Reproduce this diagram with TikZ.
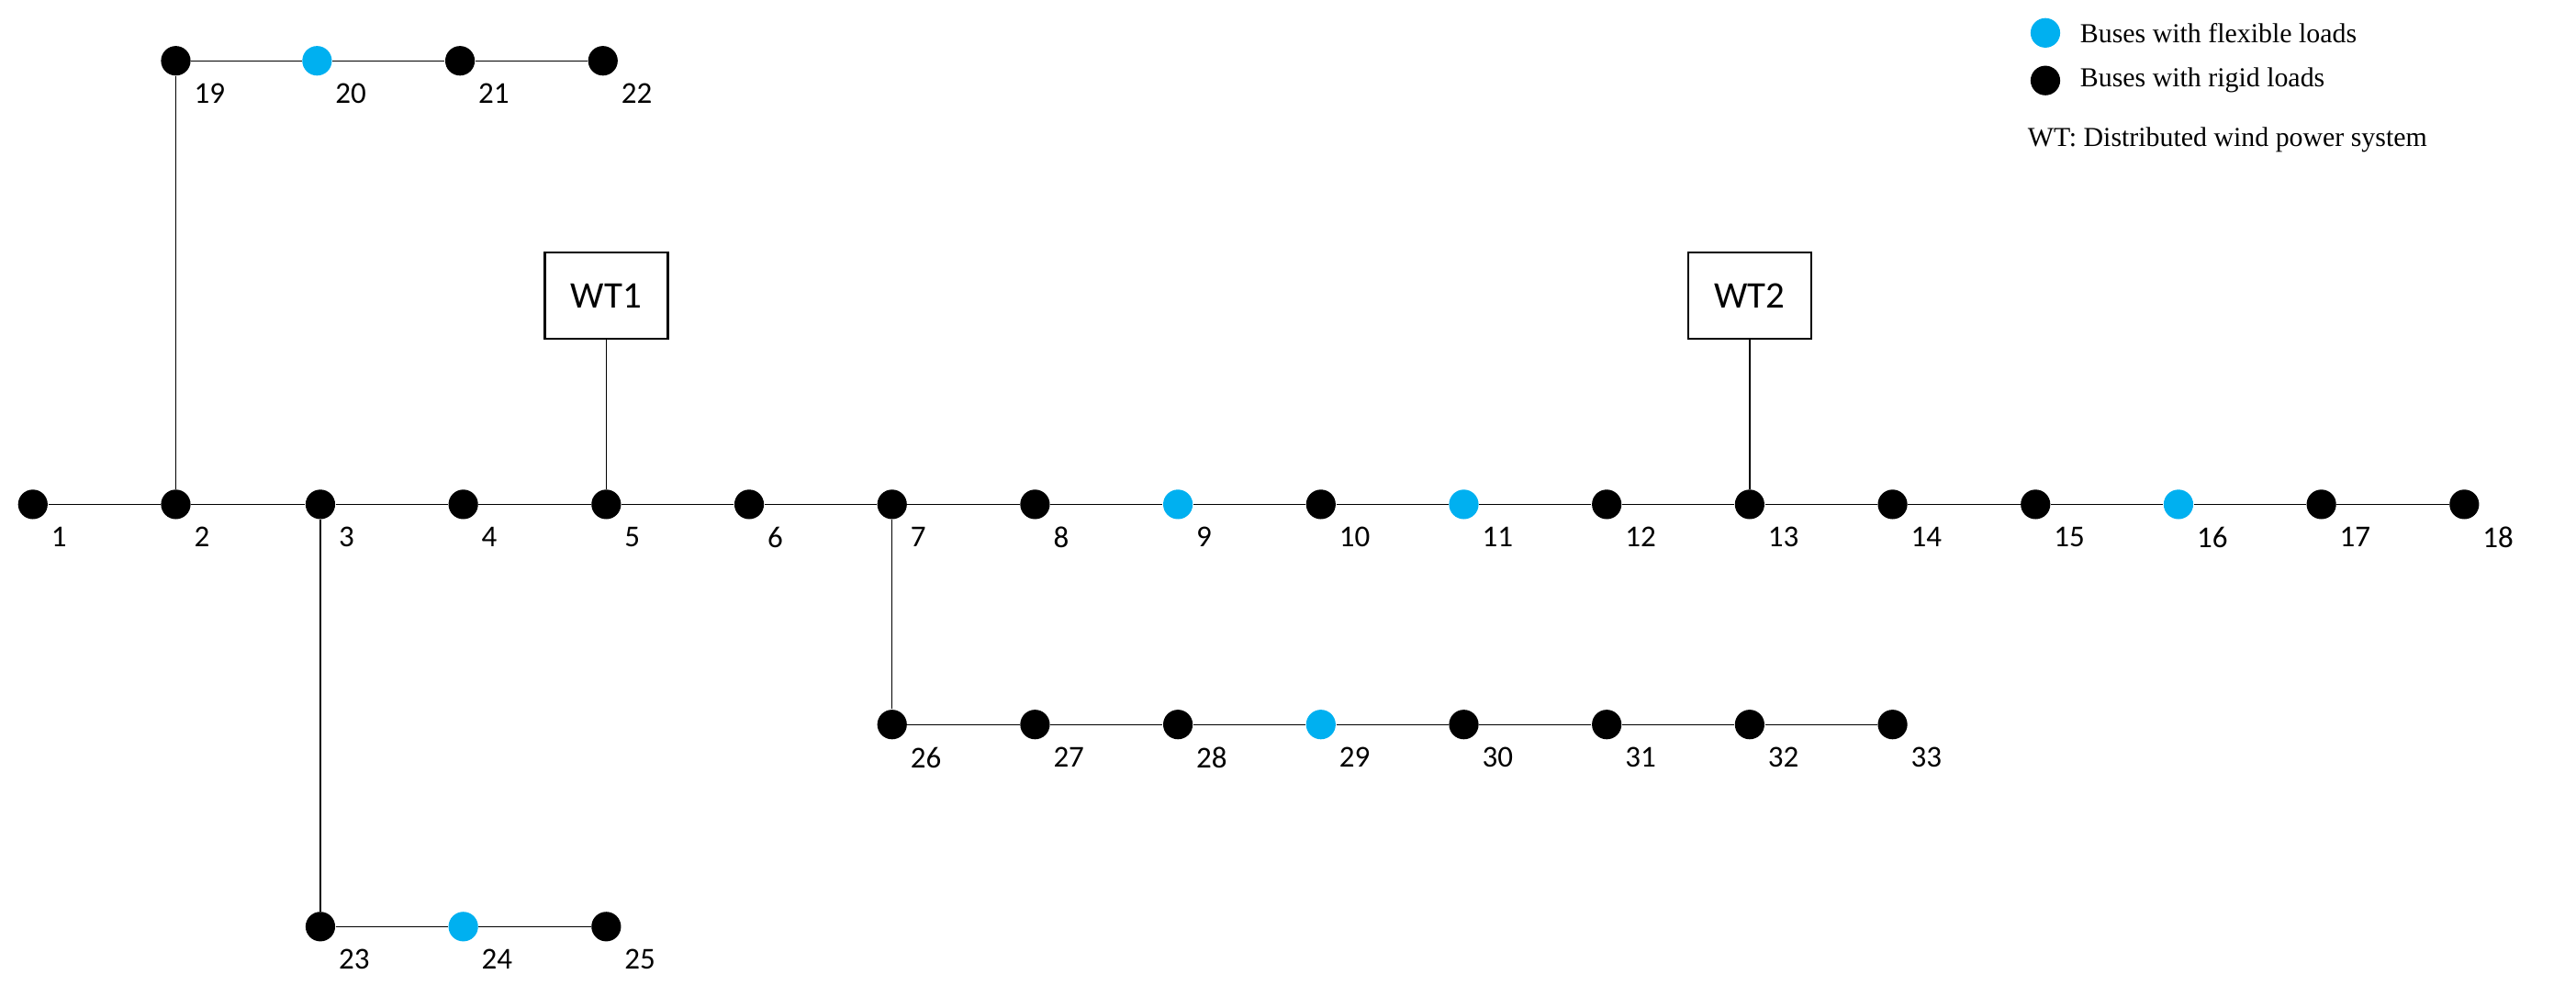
\documentclass[tikz,border=0pt]{standalone}
\usepackage{fontspec}
\setmainfont{Liberation Serif}
\newfontfamily\busfont{Carlito}
\definecolor{flexblue}{RGB}{0,176,240}
\tikzset{
  bus/.style={circle,fill=black,inner sep=0pt,minimum size=0.36cm},
  flex/.style={bus,fill=flexblue},
  num/.style={font=\busfont\fontsize{10.5}{12}\selectfont,anchor=north west,inner sep=1pt},
  wt/.style={draw,thick,minimum width=1.5cm,minimum height=1.05cm,font=\busfont\fontsize{13}{15}\selectfont}
}
\begin{document}
\begin{tikzpicture}[x=0.02cm,y=-0.02cm]
    \useasboundingbox (0,0) rectangle (1568,613);

    % Buses
    \foreach \n/\x/\y/\s in {1/20/307/bus,2/107/307/bus,3/195/307/bus,4/282/307/bus,5/369/307/bus,
      6/456/307/bus,7/543/307/bus,8/630/307/bus,9/717/307/flex,10/804/307/bus,11/891/307/flex,
      12/978/307/bus,13/1065/307/bus,14/1152/307/bus,15/1239/307/bus,16/1326/307/flex,
      17/1413/307/bus,18/1500/307/bus,
      19/107/37/bus,20/193/37/flex,21/280/37/bus,22/367/37/bus,
      23/195/564/bus,24/282/564/flex,25/369/564/bus,
      26/543/441/bus,27/630/441/bus,28/717/441/bus,29/804/441/flex,30/891/441/bus,
      31/978/441/bus,32/1065/441/bus,33/1152/441/bus}
      \node[\s] (b\n) at (\x,\y) {};
    \foreach \n in {1,...,33}
      \node[num] at ([xshift=0.05cm,yshift=-0.1cm]b\n.south east) {\n};

    % Lines
    \foreach \a/\b in {1/2,2/3,3/4,4/5,5/6,6/7,7/8,8/9,9/10,10/11,11/12,12/13,13/14,14/15,
      15/16,16/17,17/18,19/20,20/21,21/22,23/24,24/25,26/27,27/28,28/29,29/30,30/31,31/32,32/33}
      \draw (b\a) -- (b\b);
    \draw (b2) -- (b19);
    \draw (b3) -- (b23);
    \draw (b7) -- (b26);

    % Wind turbines
    \node[wt] (wt1) at (369,180) {WT1};
    \node[wt] (wt2) at (1065,180) {WT2};
    \draw (wt1) -- (b5);
    \draw (wt2) -- (b13);

    % Legend
    \node[flex] (l1) at (1245,20) {};
    \node[bus] (l2) at (1245,49) {};
    \node[anchor=west,font=\fontsize{9.5}{11}\selectfont] at (1260,20) {Buses with flexible loads};
    \node[anchor=west,font=\fontsize{9.5}{11}\selectfont] at (1260,49) {Buses with rigid loads};
    \node[anchor=west,font=\fontsize{9.5}{11}\selectfont,inner sep=0pt] at (1234,85) {WT: Distributed wind power system};

\end{tikzpicture}
\end{document}
